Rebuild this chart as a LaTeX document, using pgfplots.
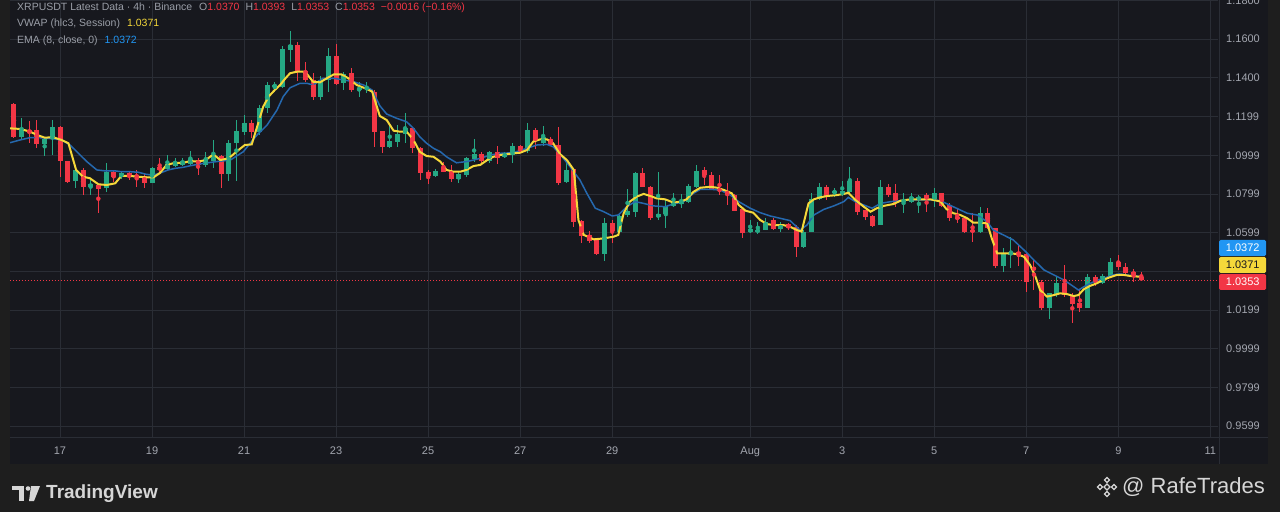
\documentclass[border=0pt]{standalone}
\usepackage{pgfplots}
\pgfplotsset{compat=1.18}
\usepackage{pgfplotstable}
\usepackage{fontspec}
\setmainfont{Liberation Sans}
\definecolor{frame}{HTML}{1E1E1E}
\definecolor{bg}{HTML}{17181E}
\definecolor{gridc}{HTML}{2A2D35}
\definecolor{upc}{HTML}{25A884}
\definecolor{dnc}{HTML}{F23645}
\definecolor{vwapc}{HTML}{F5D83A}
\definecolor{emac}{HTML}{2568AE}
\definecolor{emabox}{HTML}{2196F3}
\definecolor{txt}{HTML}{9A9EA7}
\definecolor{labc}{HTML}{A3A6AF}
\definecolor{footc}{HTML}{D6D6D6}

% rising candles: index open high low close
\pgfplotstableread{
i o h l c
1 1.1095 1.1190 1.1078 1.1133
4 1.1057 1.1095 1.0995 1.1081
5 1.1081 1.1181 1.1000 1.1147
8 1.0867 1.0937 1.0828 1.0923
10 1.0836 1.0880 1.0793 1.0850
12 1.0828 1.0960 1.0811 1.0914
14 1.0885 1.0918 1.0875 1.0906
18 1.0857 1.0940 1.0855 1.0931
20 1.0926 1.1000 1.0923 1.0954
21 1.0943 1.0983 1.0937 1.0966
22 1.0948 1.0983 1.0943 1.0969
23 1.0954 1.1021 1.0943 1.0978
25 1.0948 1.1017 1.0940 1.0980
26 1.0969 1.1078 1.0935 1.0997
28 1.0900 1.1078 1.0866 1.1061
29 1.1061 1.1181 1.0866 1.1124
30 1.1121 1.1207 1.1104 1.1164
32 1.1121 1.1259 1.1104 1.1242
33 1.1242 1.1379 1.1216 1.1362
34 1.1354 1.1376 1.1328 1.1362
35 1.1354 1.1565 1.1345 1.1548
36 1.1543 1.1641 1.1483 1.1569
40 1.1302 1.1409 1.1285 1.1388
41 1.1388 1.1555 1.1328 1.1514
43 1.1371 1.1431 1.1336 1.1417
45 1.1336 1.1376 1.1302 1.1348
46 1.1340 1.1376 1.1320 1.1350
49 1.1040 1.1155 1.1035 1.1074
50 1.1069 1.1155 1.1043 1.1109
51 1.1109 1.1216 1.1061 1.1138
55 1.0892 1.0926 1.0888 1.0919
58 1.0875 1.0914 1.0854 1.0902
59 1.0897 1.0991 1.0888 1.0983
60 1.0978 1.1081 1.0966 1.1005
62 1.0971 1.1022 1.0960 1.1017
64 1.0988 1.1017 1.0983 1.1009
65 1.1000 1.1061 1.0960 1.1047
67 1.1022 1.1164 1.1012 1.1130
69 1.1061 1.1150 1.1047 1.1092
72 1.0862 1.0957 1.0857 1.0923
77 1.0488 1.0673 1.0454 1.0650
79 1.0604 1.0690 1.0604 1.0685
80 1.0690 1.0823 1.0681 1.0712
81 1.0707 1.0914 1.0678 1.0906
84 1.0678 1.0914 1.0664 1.0695
85 1.0695 1.0768 1.0621 1.0737
86 1.0737 1.0806 1.0733 1.0754
87 1.0747 1.0799 1.0725 1.0764
88 1.0759 1.0850 1.0754 1.0840
89 1.0836 1.0949 1.0828 1.0919
96 1.0604 1.0664 1.0595 1.0616
97 1.0604 1.0655 1.0592 1.0612
98 1.0612 1.0674 1.0612 1.0655
100 1.0616 1.0654 1.0602 1.0638
103 1.0523 1.0612 1.0518 1.0604
104 1.0604 1.0802 1.0600 1.0771
105 1.0771 1.0857 1.0768 1.0833
107 1.0805 1.0828 1.0785 1.0814
108 1.0793 1.0867 1.0788 1.0816
109 1.0810 1.0937 1.0802 1.0867
113 1.0638 1.0871 1.0638 1.0836
116 1.0759 1.0805 1.0699 1.0768
117 1.0759 1.0805 1.0750 1.0785
118 1.0771 1.0793 1.0702 1.0781
120 1.0771 1.0828 1.0733 1.0802
126 1.0604 1.0733 1.0599 1.0699
129 1.0426 1.0518 1.0397 1.0488
130 1.0483 1.0578 1.0414 1.0500
135 1.0208 1.0288 1.0151 1.0285
136 1.0276 1.0375 1.0268 1.0340
140 1.0208 1.0385 1.0208 1.0371
142 1.0340 1.0385 1.0333 1.0375
143 1.0371 1.0466 1.0369 1.0449
}\upcandles

% falling candles: index open high low close
\pgfplotstableread{
i o h l c
0 1.1264 1.1271 1.1088 1.1095
2 1.1130 1.1178 1.1061 1.1116
3 1.1130 1.1181 1.1035 1.1057
6 1.1147 1.1150 1.0885 1.0969
7 1.0969 1.0969 1.0854 1.0862
9 1.0923 1.0931 1.0793 1.0836
11 1.0845 1.0850 1.0699 1.0824
13 1.0914 1.0918 1.0862 1.0885
15 1.0906 1.0914 1.0871 1.0888
16 1.0897 1.0923 1.0836 1.0885
17 1.0892 1.0906 1.0828 1.0857
19 1.0937 1.0983 1.0909 1.0923
24 1.0976 1.0983 1.0897 1.0946
27 1.0997 1.1000 1.0828 1.0900
31 1.1164 1.1181 1.1087 1.1121
37 1.1569 1.1583 1.1383 1.1431
38 1.1436 1.1480 1.1379 1.1388
39 1.1388 1.1423 1.1285 1.1302
42 1.1514 1.1573 1.1362 1.1366
44 1.1423 1.1452 1.1328 1.1336
47 1.1328 1.1336 1.1043 1.1121
48 1.1124 1.1124 1.1009 1.1043
52 1.1138 1.1147 1.1012 1.1035
53 1.1035 1.1043 1.0871 1.0906
54 1.0914 1.0923 1.0850 1.0892
56 1.0937 1.0966 1.0910 1.0914
57 1.0918 1.0949 1.0862 1.0875
61 1.1005 1.1017 1.0960 1.0971
63 1.1014 1.1047 1.0954 1.0983
66 1.1047 1.1052 1.1009 1.1012
68 1.1130 1.1138 1.1030 1.1074
70 1.1081 1.1095 1.1052 1.1052
71 1.1052 1.1143 1.0845 1.0857
73 1.0926 1.0931 1.0626 1.0655
74 1.0661 1.0664 1.0547 1.0581
75 1.0587 1.0609 1.0547 1.0557
76 1.0569 1.0571 1.0483 1.0488
78 1.0650 1.0664 1.0544 1.0609
82 1.0906 1.0931 1.0836 1.0836
83 1.0836 1.0840 1.0664 1.0673
90 1.0923 1.0940 1.0845 1.0897
91 1.0897 1.0914 1.0823 1.0823
92 1.0823 1.0897 1.0793 1.0816
93 1.0816 1.0854 1.0742 1.0793
94 1.0793 1.0801 1.0712 1.0712
95 1.0719 1.0724 1.0569 1.0599
99 1.0664 1.0673 1.0612 1.0616
101 1.0643 1.0650 1.0612 1.0621
102 1.0629 1.0638 1.0474 1.0523
106 1.0836 1.0845 1.0768 1.0788
110 1.0867 1.0880 1.0690 1.0707
111 1.0716 1.0716 1.0664 1.0678
112 1.0685 1.0690 1.0630 1.0633
114 1.0836 1.0850 1.0785 1.0793
115 1.0802 1.0850 1.0733 1.0750
119 1.0793 1.0802 1.0707 1.0768
121 1.0802 1.0805 1.0733 1.0737
122 1.0742 1.0754 1.0661 1.0673
123 1.0681 1.0725 1.0647 1.0668
124 1.0673 1.0681 1.0595 1.0604
125 1.0612 1.0699 1.0552 1.0604
127 1.0699 1.0725 1.0616 1.0621
128 1.0621 1.0621 1.0414 1.0426
131 1.0500 1.0540 1.0426 1.0483
132 1.0488 1.0495 1.0293 1.0345
133 1.0419 1.0461 1.0302 1.0406
134 1.0345 1.0354 1.0199 1.0208
137 1.0340 1.0431 1.0268 1.0276
138 1.0276 1.0285 1.0130 1.0230
139 1.0233 1.0306 1.0190 1.0208
141 1.0371 1.0380 1.0323 1.0337
144 1.0449 1.0483 1.0406 1.0419
145 1.0423 1.0440 1.0380 1.0389
146 1.0397 1.0409 1.0345 1.0380
147 1.0370 1.0393 1.0353 1.0353
}\dncandles

\pgfplotstableread{
x y
-0.5 1.1064
0.8 1.1078
2.1 1.1090
3.2 1.1090
4.3 1.1087
5.3 1.1083
6.2 1.1078
7.3 1.1052
8.2 1.1017
9.5 1.0966
10.8 1.0923
11.9 1.0918
13.2 1.0918
14.0 1.0914
15.1 1.0914
16.2 1.0911
17.3 1.0900
18.2 1.0897
19.0 1.0906
20.1 1.0923
21.0 1.0931
22.1 1.0937
23.0 1.0945
24.7 1.0957
26.4 1.0966
28.2 1.0974
29.9 1.1017
30.8 1.1061
31.7 1.1104
33.0 1.1155
34.3 1.1233
35.1 1.1302
36.0 1.1348
37.3 1.1371
38.2 1.1371
39.0 1.1362
40.3 1.1397
41.7 1.1397
43.0 1.1388
44.3 1.1379
45.6 1.1362
46.7 1.1336
47.7 1.1255
48.6 1.1212
49.9 1.1190
51.2 1.1172
52.1 1.1138
52.9 1.1095
53.8 1.1061
54.7 1.1035
55.6 1.1017
56.4 1.0991
57.7 1.0960
59.0 1.0966
59.9 1.0974
60.8 1.0983
62.1 1.1000
63.4 1.1009
65.1 1.1012
66.9 1.1035
68.2 1.1052
69.5 1.1055
70.3 1.1043
71.2 1.1005
72.5 1.0940
73.8 1.0871
74.7 1.0802
75.8 1.0725
76.9 1.0707
78.0 1.0685
78.8 1.0690
79.9 1.0733
81.0 1.0759
82.1 1.0750
83.4 1.0737
84.9 1.0733
86.0 1.0747
87.3 1.0759
88.6 1.0802
89.5 1.0823
90.8 1.0823
92.1 1.0819
93.4 1.0793
94.5 1.0759
96.0 1.0725
97.3 1.0702
98.6 1.0685
99.9 1.0673
101.2 1.0661
102.5 1.0612
103.4 1.0638
104.3 1.0690
105.6 1.0719
106.9 1.0737
108.2 1.0759
108.8 1.0781
109.7 1.0759
110.8 1.0742
111.9 1.0725
113.0 1.0750
114.3 1.0759
115.6 1.0764
116.9 1.0768
118.2 1.0768
119.5 1.0768
120.8 1.0764
121.7 1.0747
122.9 1.0725
124.3 1.0699
125.6 1.0690
126.9 1.0655
127.7 1.0612
129.0 1.0587
130.3 1.0561
131.7 1.0509
133.0 1.0457
134.3 1.0406
135.6 1.0380
136.9 1.0354
138.2 1.0319
138.8 1.0302
139.9 1.0328
141.2 1.0352
142.5 1.0368
143.3 1.0380
144.2 1.0385
145.1 1.0380
146.0 1.0375
147.0 1.0372
}\ema

\pgfplotstableread{
x y
-0.5 1.1138
0.8 1.1135
2.1 1.1121
3.0 1.1104
4.0 1.1090
5.1 1.1092
6.2 1.1078
7.1 1.1061
8.1 1.0923
9.0 1.0888
9.9 1.0880
11.0 1.0849
12.1 1.0845
13.2 1.0854
14.0 1.0892
15.1 1.0892
16.2 1.0888
17.2 1.0885
18.2 1.0885
19.0 1.0906
19.9 1.0949
21.0 1.0960
22.1 1.0960
23.0 1.0969
24.0 1.0966
25.0 1.0974
26.0 1.1004
26.9 1.0974
28.0 1.0983
29.0 1.1017
30.1 1.1052
31.0 1.1055
31.9 1.1172
32.5 1.1250
33.2 1.1302
34.0 1.1336
34.7 1.1362
35.4 1.1397
36.0 1.1423
36.9 1.1431
37.7 1.1431
38.3 1.1414
39.0 1.1379
39.9 1.1376
40.8 1.1397
41.7 1.1417
42.7 1.1417
43.6 1.1397
44.7 1.1362
45.8 1.1345
46.7 1.1328
47.7 1.1202
48.6 1.1181
49.5 1.1126
50.3 1.1121
51.2 1.1121
52.1 1.1078
52.9 1.1017
53.8 1.0995
54.7 1.0991
55.6 1.0966
56.4 1.0923
57.3 1.0914
58.2 1.0914
59.0 1.0923
59.9 1.0943
60.8 1.0949
61.7 1.0974
62.5 1.0991
63.4 1.1000
64.3 1.1005
65.1 1.1009
66.0 1.1012
66.9 1.1026
67.7 1.1069
68.6 1.1081
69.5 1.1081
70.3 1.1061
71.2 1.1005
72.1 1.0974
73.0 1.0923
73.6 1.0664
74.3 1.0587
75.6 1.0564
76.9 1.0569
78.2 1.0578
78.8 1.0587
79.5 1.0699
80.3 1.0759
81.2 1.0785
82.1 1.0799
83.0 1.0788
83.8 1.0776
84.9 1.0771
86.0 1.0754
86.9 1.0759
87.7 1.0771
88.6 1.0810
89.5 1.0831
90.8 1.0836
91.7 1.0831
92.6 1.0819
93.6 1.0802
94.5 1.0742
95.4 1.0712
96.4 1.0702
97.3 1.0664
98.2 1.0643
99.0 1.0638
100.3 1.0638
101.2 1.0629
102.1 1.0612
102.7 1.0604
103.6 1.0750
104.3 1.0771
105.1 1.0781
106.0 1.0788
107.3 1.0793
108.2 1.0799
108.8 1.0805
109.7 1.0768
110.8 1.0733
111.7 1.0707
112.5 1.0725
113.4 1.0737
114.7 1.0747
115.6 1.0764
116.9 1.0771
118.2 1.0771
119.5 1.0771
120.8 1.0760
121.6 1.0720
122.5 1.0699
123.4 1.0690
124.3 1.0673
125.1 1.0650
126.0 1.0650
126.9 1.0647
127.5 1.0569
128.2 1.0492
129.0 1.0492
129.9 1.0492
130.8 1.0488
131.7 1.0474
132.5 1.0431
133.2 1.0371
133.8 1.0302
134.7 1.0268
135.6 1.0276
136.4 1.0285
137.3 1.0281
138.2 1.0271
138.8 1.0276
139.5 1.0306
140.3 1.0323
141.2 1.0337
142.0 1.0354
142.9 1.0368
143.8 1.0380
144.7 1.0380
145.5 1.0375
146.4 1.0372
147.0 1.0371
}\vwap

\newcommand{\lgfont}{\fontsize{10.5}{12}\selectfont}
\newcommand{\axfont}{\fontsize{11}{13}\selectfont}

\pgfplotsset{
  wick/.style={only marks, mark=none, forget plot,
    error bars/.cd, y dir=both, y explicit, error mark=none,
    error bar style={line width=1pt, #1}},
  body/.style={only marks, mark=none, forget plot,
    error bars/.cd, y dir=both, y explicit, error mark=none,
    error bar style={line width=5pt, #1}},
}

\begin{document}
\begin{tikzpicture}[x=1pt,y=1pt]
\fill[frame] (0,0) rectangle (1280,512);
\fill[bg] (10,48) rectangle (1268,512);
\begin{axis}[
  at={(10pt,75pt)}, anchor=south west,
  width=1208pt, height=437pt, scale only axis,
  xmin=-0.52, xmax=157.0, ymin=0.95421, ymax=1.18017,
  axis line style={draw=none},
  major tick length=0pt,
  yticklabel pos=right,
  xtick={6,18,30,42,54,66,78,96,108,120,132,144,156},
  xticklabels={17,19,21,23,25,27,29,Aug,3,5,7,9,11},
  ytick={0.9599,0.9799,0.9999,1.0199,1.0399,1.0599,1.0799,1.0999,1.1199,1.14,1.16,1.18},
  yticklabels={0.9599,0.9799,0.9999,1.0199,{},1.0599,1.0799,1.0999,1.1199,1.1400,1.1600,1.1800},
  grid=major, grid style={draw=gridc, line width=0.8pt},
  ticklabel style={font=\axfont, text=labc},
  yticklabel style={anchor=west, inner sep=0pt, xshift=8pt},
  xticklabel style={anchor=north, inner sep=0pt, yshift=-10pt},
  /pgf/number format/assume math mode=true,
]
\addplot[dnc, wick=dnc] table[x=i, y expr={(\thisrow{h}+\thisrow{l})/2}, y error expr={(\thisrow{h}-\thisrow{l})/2}] {\dncandles};
\addplot[upc, wick=upc] table[x=i, y expr={(\thisrow{h}+\thisrow{l})/2}, y error expr={(\thisrow{h}-\thisrow{l})/2}] {\upcandles};
\addplot[dnc, body=dnc] table[x=i, y expr={(\thisrow{o}+\thisrow{c})/2}, y error expr={max(abs(\thisrow{o}-\thisrow{c})/2,0.00026)}] {\dncandles};
\addplot[upc, body=upc] table[x=i, y expr={(\thisrow{o}+\thisrow{c})/2}, y error expr={max(abs(\thisrow{o}-\thisrow{c})/2,0.00026)}] {\upcandles};
\addplot[dnc, line width=0.9pt, dash pattern=on 1pt off 2pt, forget plot] coordinates {(-0.52,1.0353) (157,1.0353)};
\addplot[emac, line width=1.5pt, forget plot] table[x=x,y=y] {\ema};
\addplot[vwapc, line width=2pt, forget plot] table[x=x,y=y] {\vwap};
\end{axis}
% borders
\draw[gridc, line width=1pt] (10,74.5) -- (1268,74.5);
\draw[gridc, line width=1pt] (1219,48) -- (1219,512);
% legend
\node[anchor=west, inner sep=0pt, font=\lgfont, text=txt] at (17,504.5)
 {XRPUSDT Latest Data · 4h · Binance\hspace{7pt}O\textcolor{dnc}{1.0370}\hspace{6pt}H\textcolor{dnc}{1.0393}\hspace{6pt}L\textcolor{dnc}{1.0353}\hspace{6pt}C\textcolor{dnc}{1.0353}\hspace{6pt}\textcolor{dnc}{−0.0016 (−0.16\%)}};
\node[anchor=west, inner sep=0pt, font=\lgfont, text=txt] at (17,488)
 {VWAP (hlc3, Session)\hspace{7pt}\textcolor{vwapc}{1.0371}};
\node[anchor=west, inner sep=0pt, font=\lgfont, text=txt] at (17,471.5)
 {EMA (8, close, 0)\hspace{7pt}\textcolor{emabox}{1.0372}};
% price boxes
\node[fill=emabox, text=white, minimum width=47pt, minimum height=16pt, inner sep=0pt, anchor=west, font=\axfont, rounded corners=1.5pt] at (1219,264) {1.0372};
\node[fill=vwapc, text=bg, minimum width=47pt, minimum height=16pt, inner sep=0pt, anchor=west, font=\axfont, rounded corners=1.5pt] at (1219,247) {1.0371};
\node[fill=dnc, text=white, minimum width=47pt, minimum height=16pt, inner sep=0pt, anchor=west, font=\axfont, rounded corners=1.5pt] at (1219,230) {1.0353};
% footer: TradingView logo
\fill[footc] (12,26) rectangle (24,22);
\fill[footc] (19,22) rectangle (24,11);
\fill[footc] (28,23.5) circle (2.3);
\fill[footc] (31,26) -- (40,26) -- (34,11) -- (29,11) -- cycle;
\node[anchor=west, inner sep=0pt, font=\bfseries\fontsize{19}{19}\selectfont, text=footc] at (46,18) {TradingView};
% Binance-like icon
\foreach \dx/\dy/\s in {0/0/3, 7/0/2.5, -7/0/2.5, 0/7/2.5, 0/-7/2.5} {
  \draw[footc, line width=1.2pt] (1107+\dx,25+\dy+\s) -- (1107+\dx+\s,25+\dy) -- (1107+\dx,25+\dy-\s) -- (1107+\dx-\s,25+\dy) -- cycle;
}
\node[anchor=west, inner sep=0pt, font=\fontsize{22}{22}\selectfont, text=footc] at (1122,25) {@ RafeTrades};
\pgfresetboundingbox
\path[use as bounding box] (0,0) rectangle (1280,512);
\end{tikzpicture}
\end{document}
